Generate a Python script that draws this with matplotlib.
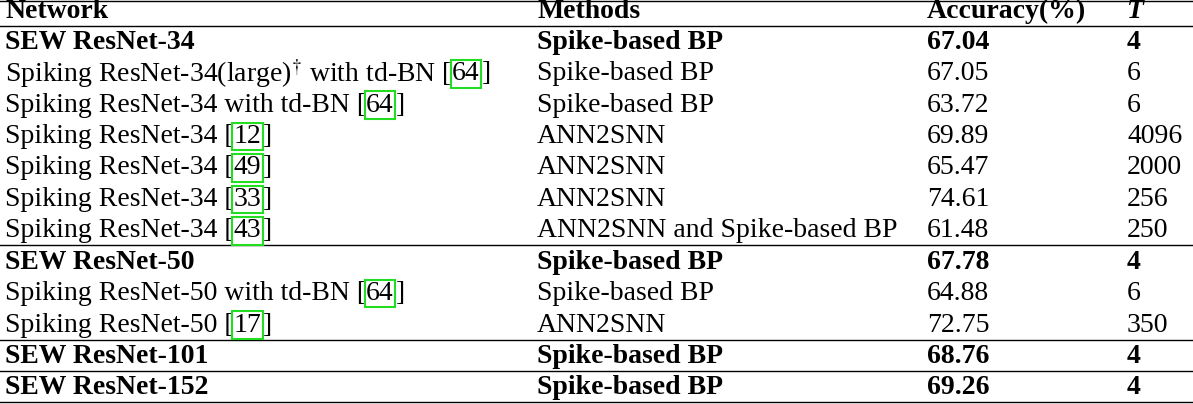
import matplotlib
matplotlib.use("Agg")
import matplotlib.pyplot as plt

W, H = 1193, 404
plt.rcParams['font.family'] = ['Liberation Serif', 'DejaVu Serif']
plt.rcParams['mathtext.fontset'] = 'stix'

headers = ["Network", "Methods", "Accuracy(%)", "T"]
# network name pieces: (text, citation or None, suffix)
networks = [
    ("SEW ResNet-34", None, ""),
    ("Spiking ResNet-34(large)$^{\\dagger}$ with td-BN [", "64", "]"),
    ("Spiking ResNet-34 with td-BN [", "64", "]"),
    ("Spiking ResNet-34 [", "12", "]"),
    ("Spiking ResNet-34 [", "49", "]"),
    ("Spiking ResNet-34 [", "33", "]"),
    ("Spiking ResNet-34 [", "43", "]"),
    ("SEW ResNet-50", None, ""),
    ("Spiking ResNet-50 with td-BN [", "64", "]"),
    ("Spiking ResNet-50 [", "17", "]"),
    ("SEW ResNet-101", None, ""),
    ("SEW ResNet-152", None, ""),
]
methods = ["Spike-based BP", "Spike-based BP", "Spike-based BP", "ANN2SNN", "ANN2SNN",
           "ANN2SNN", "ANN2SNN and Spike-based BP", "Spike-based BP", "Spike-based BP",
           "ANN2SNN", "Spike-based BP", "Spike-based BP"]
accuracy = ["67.04", "67.05", "63.72", "69.89", "65.47", "74.61", "61.48",
            "67.78", "64.88", "72.75", "68.76", "69.26"]
timesteps = ["4", "6", "6", "4096", "2000", "256", "250", "4", "6", "350", "4", "4"]
bold_rows = [0, 7, 10, 11]
rule_after = [-1, 6, 9, 10, 11]  # row index after which a line is drawn (-1 = header)

fig = plt.figure(figsize=(W / 100, H / 100), dpi=100)
ax = fig.add_axes([0, 0, 1, 1])
ax.set_xlim(0, W)
ax.set_ylim(H, 0)
ax.axis("off")
fs = 20
col_x = [5, 537, 927, 1127]
row_h = 31.4
y0 = 11

def row_y(i):
    return y0 + (i + 1) * row_h

for j, (x, h) in enumerate(zip(col_x, headers)):
    ax.text(x, y0, h, fontsize=fs, fontweight="bold", va="center", ha="left",
            style="italic" if j == 3 else "normal")

ax.plot([0, W], [1, 1], color="black", lw=1)
for r in rule_after:
    y = y0 + (r + 1) * row_h + row_h / 2 - 1
    ax.plot([0, W], [y, y], color="black", lw=1)

fig.canvas.draw()
renderer = fig.canvas.get_renderer()
inv = ax.transData.inverted()

for i in range(len(networks)):
    y = row_y(i)
    wt = "bold" if i in bold_rows else "normal"
    pre, cite, post = networks[i]
    t = ax.text(col_x[0], y, pre, fontsize=fs, fontweight=wt, va="center", ha="left")
    if cite:
        bb = t.get_window_extent(renderer)
        x1 = inv.transform((bb.x1, 0))[0]
        c = ax.text(x1, y, cite, fontsize=fs, va="center", ha="left",
                    bbox=dict(boxstyle="square,pad=0.05", fc="none", ec="#22dd22", lw=1.5))
        bb2 = c.get_window_extent(renderer)
        x2 = inv.transform((bb2.x1, 0))[0]
        ax.text(x2 + 1, y, post, fontsize=fs, va="center", ha="left")
    ax.text(col_x[1], y, methods[i], fontsize=fs, fontweight=wt, va="center", ha="left")
    ax.text(col_x[2], y, accuracy[i], fontsize=fs, fontweight=wt, va="center", ha="left")
    ax.text(col_x[3], y, timesteps[i], fontsize=fs, fontweight=wt, va="center", ha="left")

fig.savefig("out.png", dpi=100)
